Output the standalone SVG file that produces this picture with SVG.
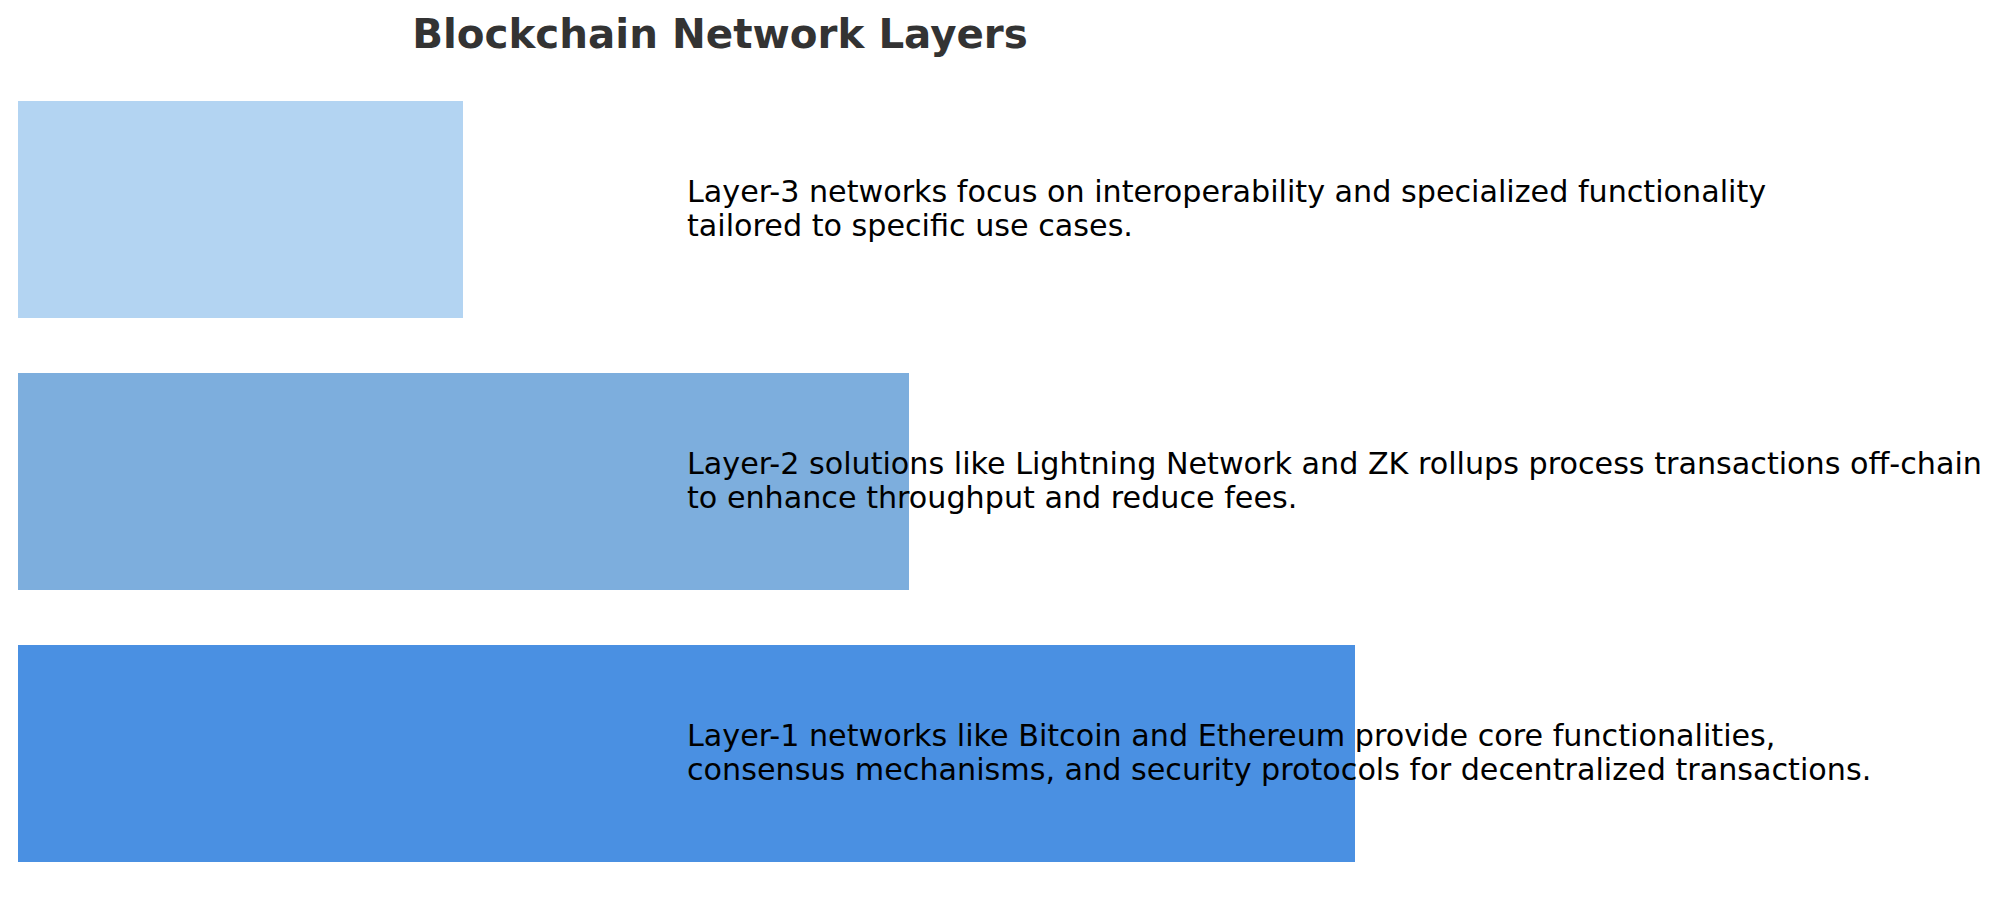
<svg xmlns="http://www.w3.org/2000/svg" width="1999" height="919" viewBox="0 0 1999 919">
<style>
.title{font-family:"DejaVu Sans",sans-serif;font-weight:bold;font-size:40.4px;fill:#333333;text-anchor:middle}
.desc{font-family:"DejaVu Sans",sans-serif;font-size:30.2px;fill:#000000}
</style>
<rect width="1999" height="919" fill="#ffffff"/>
<text class="title" x="720" y="48">Blockchain Network Layers</text>
<g id="layer3">
<rect x="18" y="101" width="445" height="217" fill="#b3d4f2"/>
<text class="desc" x="687" y="202">Layer-3 networks focus on interoperability and specialized functionality</text>
<text class="desc" x="687" y="236">tailored to specific use cases.</text>
</g>
<g id="layer2">
<rect x="18" y="373" width="891" height="217" fill="#7daedd"/>
<text class="desc" x="687" y="474">Layer-2 solutions like Lightning Network and ZK rollups process transactions off-chain</text>
<text class="desc" x="687" y="508">to enhance throughput and reduce fees.</text>
</g>
<g id="layer1">
<rect x="18" y="645" width="1337" height="217" fill="#4a90e2"/>
<text class="desc" x="687" y="746">Layer-1 networks like Bitcoin and Ethereum provide core functionalities,</text>
<text class="desc" x="687" y="780">consensus mechanisms, and security protocols for decentralized transactions.</text>
</g>
<g id="connectors"></g>
</svg>
